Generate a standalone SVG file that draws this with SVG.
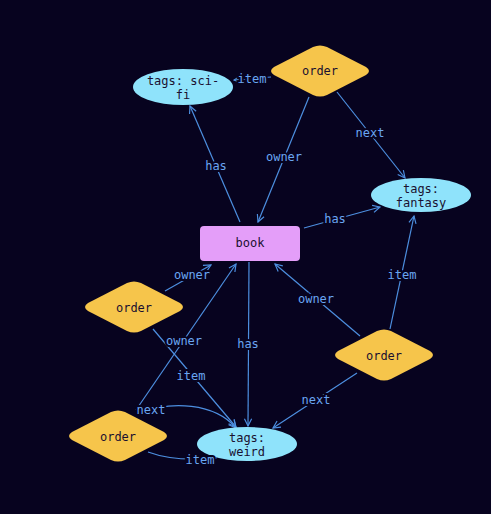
<svg xmlns="http://www.w3.org/2000/svg" width="491" height="514" viewBox="0 0 491 514">
<style>
.e{fill:none;stroke:#4d8fe0;stroke-width:1.2}
.l{font-family:"DejaVu Sans Mono",monospace;font-size:12px;fill:#6aa6f2;text-anchor:middle;dominant-baseline:central;stroke:#07031f;stroke-width:4;paint-order:stroke}
.t{font-family:"DejaVu Sans Mono",monospace;font-size:12px;fill:#1a1030;text-anchor:middle;dominant-baseline:central}
.tag{fill:#8fe3fb}
.ord{fill:#f6c54b}
</style>
<defs>
<marker id="a" viewBox="0 0 10 10" refX="9" refY="5" markerWidth="9" markerHeight="9" orient="auto" markerUnits="userSpaceOnUse">
<path d="M1,1 L9,5 L1,9" fill="none" stroke="#4d8fe0" stroke-width="1.3"/>
</marker>
</defs>
<rect width="491" height="514" fill="#07031f"/>
<g id="edges">
<path class="e" d="M240,222 L190,106" marker-end="url(#a)"/>
<path class="e" d="M271,77 L234,80" marker-end="url(#a)"/>
<path class="e" d="M309,97 L258,222" marker-end="url(#a)"/>
<path class="e" d="M337,92 L405,178" marker-end="url(#a)"/>
<path class="e" d="M304,228 L380,207" marker-end="url(#a)"/>
<path class="e" d="M165,291 L211,265" marker-end="url(#a)"/>
<path class="e" d="M136,410 L236,264" marker-end="url(#a)"/>
<path class="e" d="M249,262 L248,426" marker-end="url(#a)"/>
<path class="e" d="M360,336 L275,264" marker-end="url(#a)"/>
<path class="e" d="M390,329 L414,216" marker-end="url(#a)"/>
<path class="e" d="M357,373 L273,428" marker-end="url(#a)"/>
<path class="e" d="M153,329 L236,427" marker-end="url(#a)"/>
<path class="e" d="M140,414 C170,400 215,403 236,428" marker-end="url(#a)"/>
<path class="e" d="M148,452 Q175,462 216,458" marker-end="url(#a)"/>
<text class="l" x="216" y="166">has</text>
<text class="l" x="252" y="79">item</text>
<text class="l" x="284" y="157">owner</text>
<text class="l" x="370" y="133">next</text>
<text class="l" x="335" y="219">has</text>
<text class="l" x="192" y="275">owner</text>
<text class="l" x="184" y="341">owner</text>
<text class="l" x="248" y="344">has</text>
<text class="l" x="316" y="299">owner</text>
<text class="l" x="402" y="275">item</text>
<text class="l" x="316" y="400">next</text>
<text class="l" x="191" y="376">item</text>
<text class="l" x="151" y="410">next</text>
</g>
<g id="scifi"><ellipse class="tag" cx="183" cy="87" rx="50" ry="18"/><text class="t" x="183" y="81">tags: sci-</text><text class="t" x="183" y="95">fi</text></g>
<g id="fantasy"><ellipse class="tag" cx="421" cy="195" rx="50" ry="17"/><text class="t" x="421" y="189">tags:</text><text class="t" x="421" y="203">fantasy</text></g>
<g id="weird"><ellipse class="tag" cx="247" cy="444" rx="50" ry="17"/><text class="t" x="247" y="438">tags:</text><text class="t" x="247" y="452">weird</text></g>
<g id="book"><rect x="200" y="226" width="100" height="35" rx="4" fill="#e49ef9"/><text class="t" x="250" y="243">book</text></g>
<g id="order1"><path class="ord" d="M313,47 Q320,44 327,47 L366,67 Q372,71 366,75 L327,95 Q320,98 313,95 L274,75 Q268,71 274,67 Z"/><text class="t" x="320" y="71">order</text></g>
<g id="order2"><path class="ord" d="M127,283 Q134,280 141,283 L180,303 Q186,307 180,311 L141,331 Q134,334 127,331 L88,311 Q82,307 88,303 Z"/><text class="t" x="134" y="308">order</text></g>
<g id="order3"><path class="ord" d="M377,331 Q384,328 391,331 L430,351 Q436,355 430,359 L391,379 Q384,382 377,379 L338,359 Q332,355 338,351 Z"/><text class="t" x="384" y="356">order</text></g>
<g id="order4"><path class="ord" d="M111,412 Q118,409 125,412 L164,432 Q170,436 164,440 L125,460 Q118,463 111,460 L72,440 Q66,436 72,432 Z"/><text class="t" x="118" y="437">order</text></g>
<text class="l" x="200" y="460">item</text>
</svg>
